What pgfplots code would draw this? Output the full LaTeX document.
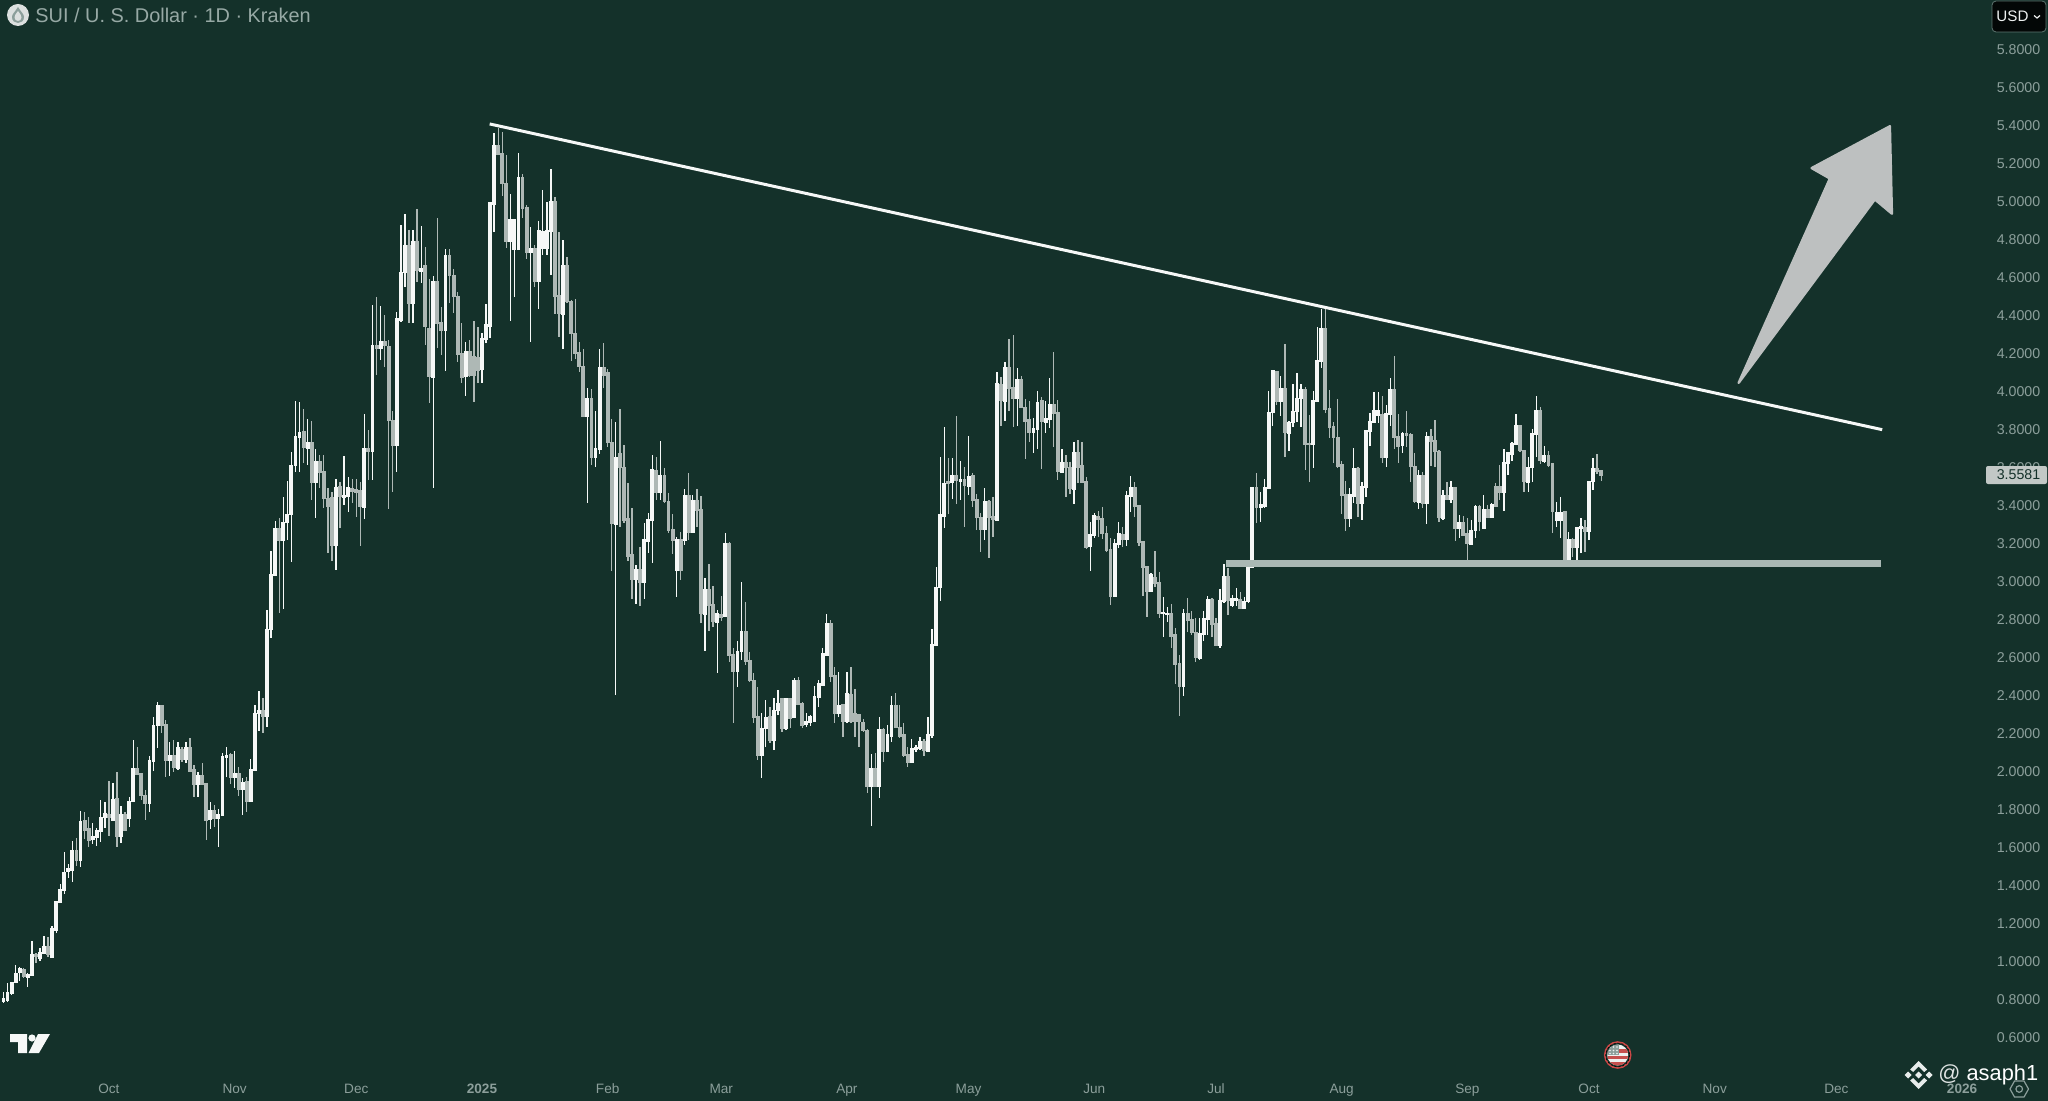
\documentclass[border=0pt]{standalone}
\usepackage{fontspec}
\setmainfont{Liberation Sans}
\usepackage{pgfplots}
\usepackage{pgfplotstable}
\pgfplotsset{compat=1.18}
\definecolor{bg}{HTML}{14312A}
\definecolor{upc}{HTML}{F6F8F7}
\definecolor{dnc}{HTML}{AEB8B5}
\definecolor{lab}{HTML}{8C9F9B}
\definecolor{hline}{HTML}{AAB8B4}
\definecolor{arrowc}{HTML}{BDC0C0}
\definecolor{pricebox}{HTML}{C2C8C6}
\pgfplotstableread{
d o h l c
-26 0.791 0.843 0.782 0.808
-25 0.796 0.887 0.791 0.838
-24 0.834 0.890 0.825 0.890
-23 0.890 0.983 0.887 0.936
-22 0.943 0.975 0.901 0.966
-21 0.957 0.966 0.913 0.922
-20 0.917 0.939 0.869 0.931
-19 0.931 1.111 0.927 1.039
-18 1.039 1.045 0.996 1.031
-17 1.018 1.071 1.006 1.048
-16 1.045 1.136 1.041 1.080
-15 1.080 1.129 1.027 1.041
-14 1.024 1.188 1.018 1.173
-13 1.167 1.320 1.150 1.316
-12 1.313 1.408 1.308 1.381
-11 1.378 1.580 1.355 1.469
-10 1.478 1.515 1.439 1.488
-9 1.483 1.634 1.422 1.585
-8 1.585 1.653 1.506 1.536
-7 1.536 1.795 1.501 1.739
-6 1.743 1.790 1.644 1.693
-5 1.699 1.760 1.606 1.641
-4 1.644 1.732 1.618 1.658
-3 1.655 1.702 1.611 1.688
-2 1.688 1.851 1.632 1.760
-1 1.760 1.843 1.702 1.781
0 1.771 1.950 1.664 1.760
1 1.746 1.939 1.743 1.855
2 1.858 2.000 1.606 1.658
3 1.658 1.820 1.627 1.771
4 1.772 1.790 1.693 1.693
5 1.757 1.869 1.711 1.844
6 1.843 2.167 1.839 2.014
7 2.018 2.132 1.983 1.986
8 1.988 1.992 1.851 1.874
9 1.874 1.904 1.746 1.834
10 1.834 2.085 1.790 2.056
11 2.053 2.290 2.006 2.244
12 2.244 2.369 2.123 2.346
13 2.346 2.351 2.202 2.244
14 2.249 2.272 1.974 2.058
15 2.058 2.155 1.979 2.083
16 2.083 2.167 2.000 2.023
17 2.016 2.155 2.009 2.128
18 2.114 2.132 2.053 2.065
19 2.065 2.156 2.044 2.128
20 2.128 2.179 2.000 2.004
21 2.009 2.035 1.865 1.935
22 1.935 1.997 1.865 1.979
23 1.978 2.048 1.930 1.935
24 1.935 1.939 1.641 1.746
25 1.750 1.843 1.700 1.795
26 1.795 1.825 1.708 1.753
27 1.755 1.802 1.602 1.772
28 1.772 2.097 1.769 2.076
29 2.074 2.128 1.971 2.085
30 2.088 2.097 1.935 1.971
31 1.971 2.109 1.913 1.988
32 1.988 2.023 1.872 1.909
33 1.909 1.969 1.774 1.944
34 1.948 1.971 1.790 1.843
35 1.844 2.065 1.841 2.009
36 2.009 2.351 2.006 2.307
37 2.307 2.426 2.216 2.319
38 2.321 2.386 2.205 2.290
39 2.290 2.850 2.234 2.749
40 2.749 3.162 2.701 3.034
41 3.031 3.319 3.029 3.276
42 3.276 3.333 2.833 3.215
43 3.219 3.447 2.854 3.310
44 3.312 3.529 3.220 3.354
45 3.354 3.680 3.105 3.610
46 3.613 3.952 3.578 3.762
47 3.759 3.943 3.578 3.783
48 3.789 3.906 3.622 3.706
49 3.701 3.854 3.613 3.732
50 3.732 3.847 3.429 3.522
51 3.522 3.696 3.333 3.631
52 3.631 3.666 3.491 3.573
53 3.575 3.666 3.385 3.438
54 3.438 3.490 3.149 3.398
55 3.440 3.470 3.106 3.193
56 3.191 3.540 3.061 3.496
57 3.499 3.526 3.280 3.447
58 3.444 3.661 3.403 3.451
59 3.447 3.552 3.368 3.491
60 3.487 3.538 3.412 3.477
61 3.482 3.538 3.342 3.471
62 3.478 3.526 3.187 3.394
63 3.391 3.882 3.328 3.698
64 3.698 3.798 3.535 3.684
65 3.684 4.455 3.535 4.240
66 4.240 4.495 4.087 4.227
67 4.227 4.452 4.166 4.262
68 4.262 4.403 4.131 4.241
69 4.236 4.271 3.382 3.847
70 3.847 3.898 3.473 3.719
71 3.719 4.420 3.575 4.380
72 4.373 4.876 4.364 4.625
73 4.625 4.932 4.548 4.766
74 4.766 4.850 4.359 4.464
75 4.464 4.850 4.359 4.785
76 4.785 4.958 4.578 4.639
77 4.632 4.871 4.573 4.643
78 4.660 4.762 4.245 4.341
79 4.332 4.592 3.938 4.078
80 4.075 4.609 3.491 4.576
81 4.578 4.911 4.227 4.359
82 4.359 4.446 4.192 4.324
83 4.324 4.750 4.110 4.715
84 4.715 4.748 4.464 4.610
85 4.610 4.643 4.411 4.499
86 4.499 4.525 4.154 4.197
87 4.197 4.359 4.047 4.073
88 4.078 4.259 3.976 4.210
89 4.210 4.271 4.078 4.085
90 4.183 4.373 3.947 4.087
91 4.175 4.338 4.043 4.113
92 4.117 4.310 4.043 4.276
93 4.275 4.460 4.254 4.350
94 4.345 4.995 4.280 4.990
95 4.985 5.362 4.841 5.292
96 5.292 5.385 5.244 5.248
97 5.248 5.367 5.029 5.095
98 5.092 5.244 4.753 4.788
99 4.788 5.037 4.373 4.902
100 4.750 4.902 4.496 4.902
101 4.750 5.253 4.745 5.125
102 5.125 5.144 4.911 4.964
103 4.967 4.981 4.697 4.731
104 4.734 4.864 4.259 4.748
105 4.748 4.771 4.548 4.581
106 4.581 4.897 4.434 4.844
107 4.753 5.060 4.718 4.841
108 4.753 4.994 4.718 4.844
109 4.841 5.169 4.613 4.999
110 4.999 5.025 4.408 4.502
111 4.502 4.837 4.289 4.411
112 4.408 4.797 4.222 4.662
113 4.662 4.709 4.464 4.473
114 4.473 4.481 4.162 4.306
115 4.306 4.485 4.169 4.201
116 4.201 4.262 4.104 4.131
117 4.131 4.222 3.864 3.871
118 3.871 4.020 3.415 3.964
119 3.964 4.012 3.613 3.654
120 3.654 3.898 3.605 3.698
121 3.696 4.222 3.671 4.126
122 4.126 4.254 4.017 4.087
123 4.096 4.117 3.706 3.733
124 3.732 3.855 3.057 3.306
125 3.303 3.838 2.403 3.653
126 3.671 3.906 3.285 3.599
127 3.599 3.718 3.310 3.324
128 3.329 3.520 3.108 3.134
129 3.140 3.389 2.906 3.012
130 3.012 3.087 2.882 3.064
131 3.064 3.183 2.871 2.999
132 2.994 3.306 2.906 3.219
133 3.210 3.359 3.152 3.327
134 3.324 3.666 3.096 3.587
135 3.583 3.653 3.429 3.468
136 3.468 3.741 3.429 3.555
137 3.555 3.596 3.411 3.420
138 3.420 3.464 3.257 3.271
139 3.271 3.354 3.145 3.215
140 3.061 3.233 2.920 3.222
141 3.222 3.259 3.008 3.061
142 3.219 3.485 3.192 3.450
143 3.450 3.569 3.219 3.262
144 3.262 3.455 3.257 3.424
145 3.424 3.485 3.289 3.376
146 3.380 3.452 2.784 2.833
147 2.829 3.020 2.636 2.955
148 2.955 3.092 2.742 2.877
149 2.877 2.977 2.759 2.789
150 2.784 2.850 2.521 2.833
151 2.824 2.926 2.794 2.815
152 2.819 3.254 2.815 3.201
153 3.201 3.210 2.575 2.614
154 2.614 2.649 2.258 2.526
155 2.526 2.689 2.443 2.631
156 2.631 2.996 2.587 2.736
157 2.736 2.891 2.561 2.579
158 2.582 2.628 2.473 2.479
159 2.479 2.521 2.254 2.289
160 2.289 2.443 2.061 2.087
161 2.087 2.307 1.968 2.228
162 2.228 2.377 2.131 2.286
163 2.289 2.338 2.149 2.163
164 2.163 2.386 2.114 2.319
165 2.324 2.429 2.298 2.356
166 2.382 2.386 2.207 2.228
167 2.228 2.386 2.219 2.382
168 2.386 2.389 2.228 2.280
169 2.286 2.494 2.280 2.477
170 2.477 2.499 2.351 2.356
171 2.359 2.368 2.231 2.245
172 2.249 2.310 2.237 2.263
173 2.258 2.298 2.240 2.289
174 2.268 2.450 2.263 2.394
175 2.394 2.482 2.338 2.461
176 2.456 2.649 2.452 2.619
177 2.614 2.829 2.608 2.780
178 2.780 2.798 2.473 2.500
179 2.503 2.552 2.254 2.307
180 2.307 2.526 2.289 2.347
181 2.351 2.354 2.184 2.263
182 2.263 2.526 2.254 2.408
183 2.407 2.552 2.258 2.263
184 2.307 2.435 2.180 2.263
185 2.298 2.302 2.128 2.263
186 2.258 2.275 2.210 2.216
187 2.216 2.223 1.886 1.921
188 1.921 2.093 1.716 2.017
189 2.017 2.100 1.921 1.924
190 1.926 2.286 1.863 2.219
191 2.223 2.228 2.052 2.110
192 2.110 2.245 2.105 2.193
193 2.187 2.398 2.158 2.345
194 2.345 2.415 2.228 2.233
195 2.233 2.351 2.175 2.187
196 2.193 2.254 2.079 2.087
197 2.087 2.131 2.026 2.052
198 2.052 2.170 2.047 2.123
199 2.117 2.140 2.105 2.128
200 2.123 2.180 2.114 2.158
201 2.158 2.170 2.082 2.114
202 2.110 2.286 2.107 2.196
203 2.193 2.750 2.175 2.666
204 2.666 3.078 2.663 2.970
205 2.968 3.654 2.898 3.350
206 3.345 3.815 3.280 3.517
207 3.526 3.648 3.354 3.517
208 3.520 3.652 3.433 3.557
209 3.557 3.873 3.408 3.531
210 3.526 3.634 3.429 3.538
211 3.534 3.604 3.285 3.508
212 3.504 3.766 3.455 3.552
213 3.555 3.573 3.391 3.429
214 3.429 3.461 3.271 3.338
215 3.338 3.359 3.154 3.277
216 3.275 3.494 3.219 3.420
217 3.420 3.429 3.122 3.341
218 3.341 3.447 3.236 3.329
219 3.324 4.101 3.320 4.038
220 4.034 4.078 3.818 3.955
221 3.950 4.153 3.846 4.127
222 4.127 4.274 3.897 4.017
223 4.020 4.297 3.815 3.964
224 3.964 4.122 3.818 4.064
225 4.064 4.081 3.911 3.915
226 3.915 3.959 3.645 3.841
227 3.850 3.952 3.732 3.783
228 3.783 3.859 3.675 3.806
229 3.801 4.004 3.697 3.943
230 3.950 3.969 3.592 3.841
231 3.839 3.952 3.783 3.855
232 3.853 4.069 3.806 3.929
233 3.932 4.209 3.706 3.885
234 3.889 3.955 3.534 3.578
235 3.575 3.696 3.573 3.627
236 3.627 3.666 3.447 3.601
237 3.601 3.631 3.461 3.490
238 3.487 3.736 3.406 3.675
239 3.675 3.745 3.517 3.604
240 3.608 3.732 3.517 3.520
241 3.526 3.548 3.173 3.180
242 3.187 3.315 3.056 3.248
243 3.245 3.362 3.227 3.345
244 3.341 3.373 3.233 3.329
245 3.333 3.394 3.222 3.254
246 3.254 3.292 3.157 3.163
247 3.166 3.227 2.877 2.921
248 2.921 3.222 2.917 3.198
249 3.198 3.312 3.175 3.250
250 3.245 3.285 3.184 3.224
251 3.224 3.478 3.187 3.450
252 3.450 3.557 3.368 3.494
253 3.496 3.526 3.341 3.398
254 3.398 3.403 3.187 3.206
255 3.210 3.213 2.924 3.078
256 3.078 3.082 2.815 2.947
257 2.950 3.043 2.947 3.035
258 3.022 3.161 2.973 2.991
259 2.996 3.052 2.807 2.833
260 2.831 2.917 2.710 2.836
261 2.829 2.868 2.789 2.833
262 2.829 2.882 2.652 2.715
263 2.719 2.754 2.461 2.566
264 2.570 2.614 2.293 2.451
265 2.447 2.854 2.400 2.829
266 2.833 2.912 2.736 2.798
267 2.801 2.845 2.719 2.731
268 2.731 2.807 2.579 2.601
269 2.596 2.807 2.587 2.728
270 2.722 2.845 2.687 2.807
271 2.803 2.926 2.719 2.903
272 2.903 2.912 2.710 2.777
273 2.777 2.807 2.661 2.666
274 2.666 2.959 2.652 2.898
275 2.894 3.091 2.889 3.026
276 3.026 3.070 2.824 2.900
277 2.877 2.929 2.868 2.907
278 2.900 2.968 2.872 2.907
279 2.903 2.947 2.854 2.859
280 2.859 2.921 2.854 2.894
281 2.894 3.105 2.886 3.079
282 3.075 3.491 3.070 3.491
283 3.491 3.570 3.307 3.391
284 3.391 3.473 3.315 3.403
285 3.394 3.540 3.385 3.491
286 3.491 4.003 3.487 3.890
287 3.890 4.108 3.819 4.108
288 4.104 4.108 3.929 3.947
289 3.947 4.082 3.871 4.015
290 4.013 4.248 3.657 3.784
291 3.780 3.845 3.689 3.836
292 3.836 4.038 3.812 3.894
293 3.894 4.099 3.841 3.964
294 3.964 4.038 3.812 4.011
295 4.008 4.025 3.587 3.722
296 3.727 3.876 3.522 3.720
297 3.722 4.000 3.596 3.952
298 3.950 4.341 3.947 4.160
299 4.160 4.432 4.122 4.329
300 4.329 4.432 3.889 3.908
301 3.908 4.008 3.754 3.812
302 3.815 3.841 3.622 3.759
303 3.759 3.959 3.599 3.605
304 3.613 3.636 3.356 3.456
305 3.456 3.529 3.268 3.333
306 3.333 3.491 3.285 3.456
307 3.447 3.705 3.412 3.596
308 3.596 3.605 3.342 3.412
309 3.412 3.526 3.324 3.499
310 3.496 3.798 3.447 3.794
311 3.792 3.885 3.713 3.841
312 3.838 3.999 3.838 3.899
313 3.876 3.999 3.833 3.899
314 3.880 3.976 3.622 3.654
315 3.652 3.929 3.601 3.882
316 3.882 4.073 3.819 4.008
317 4.008 4.187 3.696 3.757
318 3.762 3.882 3.622 3.713
319 3.715 3.789 3.675 3.780
320 3.776 3.899 3.710 3.768
321 3.771 3.780 3.526 3.605
322 3.605 3.678 3.412 3.421
323 3.417 3.587 3.380 3.557
324 3.557 3.578 3.385 3.412
325 3.412 3.789 3.303 3.762
326 3.762 3.801 3.610 3.736
327 3.740 3.850 3.605 3.684
328 3.684 3.692 3.315 3.338
329 3.333 3.482 3.324 3.452
330 3.452 3.526 3.433 3.435
331 3.433 3.531 3.412 3.494
332 3.494 3.499 3.215 3.280
333 3.280 3.350 3.228 3.310
334 3.307 3.345 3.240 3.245
335 3.249 3.336 3.114 3.201
336 3.198 3.324 3.193 3.268
337 3.268 3.403 3.228 3.394
338 3.394 3.403 3.266 3.315
339 3.280 3.456 3.277 3.377
340 3.377 3.403 3.333 3.336
341 3.336 3.412 3.333 3.403
342 3.499 3.517 3.394 3.394
343 3.499 3.613 3.429 3.468
344 3.468 3.696 3.373 3.626
345 3.622 3.684 3.561 3.675
346 3.669 3.736 3.636 3.727
347 3.724 3.880 3.719 3.820
348 3.820 3.824 3.680 3.689
349 3.689 3.692 3.470 3.526
350 3.522 3.657 3.473 3.601
351 3.601 3.801 3.526 3.777
352 3.775 3.978 3.657 3.897
353 3.897 3.917 3.619 3.640
354 3.634 3.713 3.626 3.661
355 3.661 3.689 3.601 3.613
356 3.622 3.626 3.254 3.368
357 3.321 3.421 3.289 3.363
358 3.321 3.443 3.228 3.363
359 3.368 3.371 3.105 3.117
360 3.114 3.263 3.082 3.222
361 3.222 3.228 3.131 3.180
362 3.178 3.289 3.100 3.285
363 3.282 3.333 3.149 3.289
364 3.284 3.324 3.157 3.263
365 3.263 3.531 3.219 3.527
366 3.526 3.648 3.482 3.591
367 3.591 3.671 3.566 3.578
368 3.584 3.587 3.531 3.558
}\candles
\begin{document}
\begin{tikzpicture}
\useasboundingbox (0,0) rectangle (1024pt,-550.5pt);
\fill[bg] (0,0) rectangle (1024pt,-550.5pt);
\begin{axis}[
  at={(0,0)}, anchor=north west,
  scale only axis, width=992.5pt, height=531pt,
  xmin=-26.86, xmax=462.66, ymin=0.473, ymax=6.059,
  axis line style={draw=none},
  major tick length=0pt,
  xtick={0,31,61,92,123,151,182,212,243,273,304,335,365,396,426,457},
  xticklabels={Oct,Nov,Dec,\textbf{2025},Feb,Mar,Apr,May,Jun,Jul,Aug,Sep,Oct,Nov,Dec,\textbf{2026}},
  ytick={0.6,0.8,1.0,1.2,1.4,1.6,1.8,2.0,2.2,2.4,2.6,2.8,3.0,3.2,3.4,3.6,3.8,4.0,4.2,4.4,4.6,4.8,5.0,5.2,5.4,5.6,5.8},
  yticklabel pos=right,
  /pgf/number format/assume math mode=true,
  /pgf/number format/fixed, /pgf/number format/fixed zerofill, /pgf/number format/precision=4,
  yticklabel style={font=\fontsize{7.1}{8}\selectfont, text=lab, inner sep=0pt, anchor=west, xshift=5.7pt},
  xticklabel style={font=\fontsize{6.8}{8}\selectfont, text=lab, inner sep=0pt, anchor=north, yshift=-10.5pt, text height=5pt, text depth=0pt},
  clip=true,
]
% wicks, up candles
\addplot[draw=none, mark=none, forget plot, error bars/.cd, y dir=both, y explicit, error mark=none,
  error bar style={line width=0.65pt, color=upc}]
  table[x=d, y expr={\thisrow{c}>=\thisrow{o} ? (\thisrow{h}+\thisrow{l})/2 : nan}, y error expr={(\thisrow{h}-\thisrow{l})/2}] {\candles};
% wicks, down candles
\addplot[draw=none, mark=none, forget plot, error bars/.cd, y dir=both, y explicit, error mark=none,
  error bar style={line width=0.65pt, color=dnc}]
  table[x=d, y expr={\thisrow{c}<\thisrow{o} ? (\thisrow{h}+\thisrow{l})/2 : nan}, y error expr={(\thisrow{h}-\thisrow{l})/2}] {\candles};
% bodies, down candles
\addplot[draw=none, mark=none, forget plot, error bars/.cd, y dir=both, y explicit, error mark=none,
  error bar style={line width=1.95pt, color=dnc}]
  table[x=d, y expr={\thisrow{c}<\thisrow{o} ? (\thisrow{o}+\thisrow{c})/2 : nan}, y error expr={(\thisrow{o}-\thisrow{c})/2+0.004}] {\candles};
% bodies, up candles
\addplot[draw=none, mark=none, forget plot, error bars/.cd, y dir=both, y explicit, error mark=none,
  error bar style={line width=1.95pt, color=upc}]
  table[x=d, y expr={\thisrow{c}>=\thisrow{o} ? (\thisrow{o}+\thisrow{c})/2 : nan}, y error expr={(\thisrow{c}-\thisrow{o})/2+0.004}] {\candles};
% drawings
\addplot[hline, line width=3.7pt, forget plot] coordinates {(275.5,3.094) (437,3.094)};
\addplot[upc, line width=1.5pt, forget plot] coordinates {(93.9,5.407) (437.3,3.799)};
\addplot[arrowc, fill=arrowc, line width=1.2pt, line join=round, forget plot] coordinates
  {(401.9,4.045) (424.4,5.12) (419.9,5.175) (439.2,5.395) (439.7,4.935) (435.5,5.01)} -- cycle;
\end{axis}
% overlays in reference pixel coordinates
\begin{scope}[x=0.5pt,y=-0.5pt]
% title and symbol badge
\fill[white!85!bg] (18,15) circle (11);
\fill[lab] (18,7) .. controls (21,12) and (24,14) .. (24,17) .. controls (24,25) and (12,25) .. (12,17) .. controls (12,14) and (15,12) .. (18,7) -- cycle;
\fill[white!85!bg] (18,11) .. controls (20,14) and (21.5,15) .. (21.5,17.5) .. controls (21.5,22) and (14.5,22) .. (14.5,17.5) .. controls (14.5,15) and (16,14) .. (18,11) -- cycle;
\node[anchor=west, inner sep=0pt, text=lab!90!white, font=\fontsize{9.95}{12}\selectfont] at (35,15.5) {SUI / U. S. Dollar · 1D · Kraken};
% USD selector
\fill[black!85!bg, draw=lab!60!bg, line width=0.4pt, rounded corners=2pt] (1992,1) rectangle (2046,32);
\node[anchor=west, inner sep=0pt, text=white!85!lab, font=\fontsize{7.6}{9}\selectfont] at (1996,16.5) {USD};
\draw[white!85!lab, line width=0.6pt] (2034,15.5) -- (2037,18) -- (2040,15.5);
% last price label
\fill[pricebox, rounded corners=1pt] (1986,466) rectangle (2047,484);
\node[anchor=center, inner sep=0pt, text=bg, font=\fontsize{7.1}{8}\selectfont] at (2018.5,475) {3.5581};
% TV logo
\fill[upc] (10,1034) -- (27,1034) -- (27,1053) -- (18,1053) -- (18,1042) -- (10,1042) -- cycle;
\fill[upc] (32,1038) circle (3.6);
\fill[upc] (38,1034) -- (50,1034) -- (39,1053) -- (28.5,1053) -- cycle;
% flag event icon
\fill[bg] (1617.7,1055) circle (13.5);
\draw[red!55!lab, line width=0.8pt] (1617.7,1055) circle (13);
\draw[black, line width=0.3pt, dash pattern=on 1pt off 1pt] (1617.7,1055) circle (12);
\begin{scope}
\clip (1617.7,1055) circle (10.5);
\fill[white!85!lab] (1606,1044) rectangle (1630,1066);
\fill[red!50!lab] (1606,1049) rectangle (1630,1052.5);
\fill[red!50!lab] (1606,1056) rectangle (1630,1059);
\fill[red!50!lab] (1606,1062) rectangle (1630,1066);
\fill[lab] (1606,1044) rectangle (1619,1055);
\foreach \a in {1610,1613.5,1617}{\foreach \b in {1047,1050.5,1053.5}{\fill[white!85!lab] (\a,\b) circle (0.8);}}
\end{scope}
% gear icon
\draw[lab, line width=0.6pt] (2028.5,1089) -- (2024,1081) -- (2014.5,1081) -- (2010,1089) -- (2014.5,1097) -- (2024,1097) -- cycle;
\draw[lab, line width=0.6pt] (2019.2,1089) circle (3.3);
% Binance logo and handle
\begin{scope}[shift={(1918.7,1075)}]
\fill[white!80!lab] (0,-14) -- (8.5,-5.5) -- (5.5,-3) -- (0,-8.5) -- (-5.5,-3) -- (-8.5,-5.5) -- cycle;
\fill[white!80!lab] (0,14) -- (8.5,5.5) -- (5.5,3) -- (0,8.5) -- (-5.5,3) -- (-8.5,5.5) -- cycle;
\fill[white!80!lab] (0,-3.5) -- (3.5,0) -- (0,3.5) -- (-3.5,0) -- cycle;
\fill[white!80!lab] (-14,0) -- (-10.5,-3.5) -- (-7,0) -- (-10.5,3.5) -- cycle;
\fill[white!80!lab] (14,0) -- (10.5,-3.5) -- (7,0) -- (10.5,3.5) -- cycle;
\end{scope}
\node[anchor=west, inner sep=0pt, text=white, font=\fontsize{10.9}{13}\selectfont] at (1938,1075) {{\color{white!70!lab}@} asaph1};
\end{scope}
\end{tikzpicture}
\end{document}
